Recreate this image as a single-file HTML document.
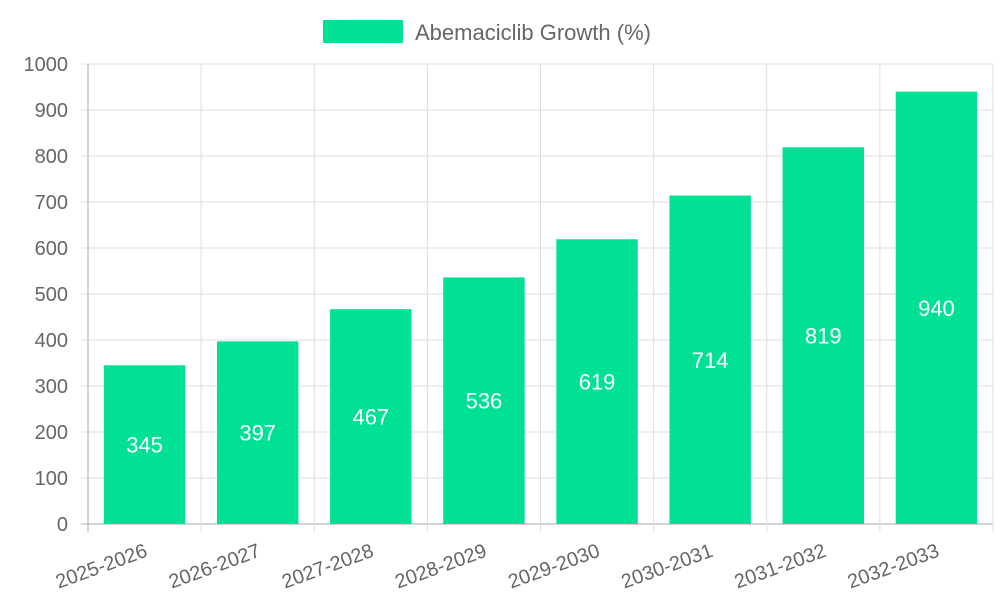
<!DOCTYPE html>
<html><head><meta charset="utf-8"><style>
body{margin:0;background:#fff;}
svg text{font-family:"Liberation Sans",sans-serif;}
</style></head><body>
<svg id="chart" width="1000" height="600" xmlns="http://www.w3.org/2000/svg">
<g>
<rect x="323" y="20" width="80" height="23" fill="#00e096"/>
<text x="415" y="40" font-size="22" fill="#666">Abemaciclib Growth (%)</text>
</g>
<g id="grid"></g><g id="bars"></g><g id="axes"></g>
</svg>
<script>
const categories=["2025-2026","2026-2027","2027-2028","2028-2029","2029-2030","2030-2031","2031-2032","2032-2033"];
const values=[345,397,467,536,619,714,819,940];
const yTicks=[0,100,200,300,400,500,600,700,800,900,1000];
const NS="http://www.w3.org/2000/svg";
const L=88,R=993,T=64,B=524,yMax=1000;
const bw=(R-L)/categories.length;
const y=v=>B-(v/yMax)*(B-T);
const x=i=>L+i*bw;
function mk(p,tag,a){const e=document.createElementNS(NS,tag);for(const k in a)e.setAttribute(k,a[k]);p.appendChild(e);return e;}
const grid=document.getElementById('grid'),bars=document.getElementById('bars'),axes=document.getElementById('axes');
yTicks.forEach(t=>{
 const l=mk(grid,'line',{x1:L-7,x2:R,y1:y(t),y2:y(t),stroke:t===0?'#aaa':'#ddd','stroke-width':1});
 
 
 const tx=mk(axes,'text',{x:L-20,y:y(t)+7,'font-size':20,fill:'#666','text-anchor':'end'});
 tx.textContent=t;
 
 
});
for(let i=0;i<=categories.length;i++){
 const l=mk(grid,'line',{x1:x(i),x2:x(i),y1:T,y2:B+8,stroke:i===0?'#aaa':'#ddd','stroke-width':1});
 
 
}
categories.forEach((c,i)=>{
 const cx=x(i)+bw/2,w=bw*0.72;
 const r=mk(bars,'rect',{x:cx-w/2,y:y(values[i]),width:w,height:B-y(values[i]),fill:'#00e096'});
 
 
 const t=mk(bars,'text',{x:cx,y:(y(values[i])+B)/2+8,'font-size':22,fill:'#fff','text-anchor':'middle'});
 t.textContent=values[i];
 
 
 const lx=cx+4,ly=B+32;
 const xl=mk(axes,'text',{x:lx,y:ly,'font-size':20,fill:'#666','text-anchor':'end',transform:`rotate(-20 ${lx} ${ly})`});
 xl.textContent=c;
 
 
});
</script>
</body></html>
